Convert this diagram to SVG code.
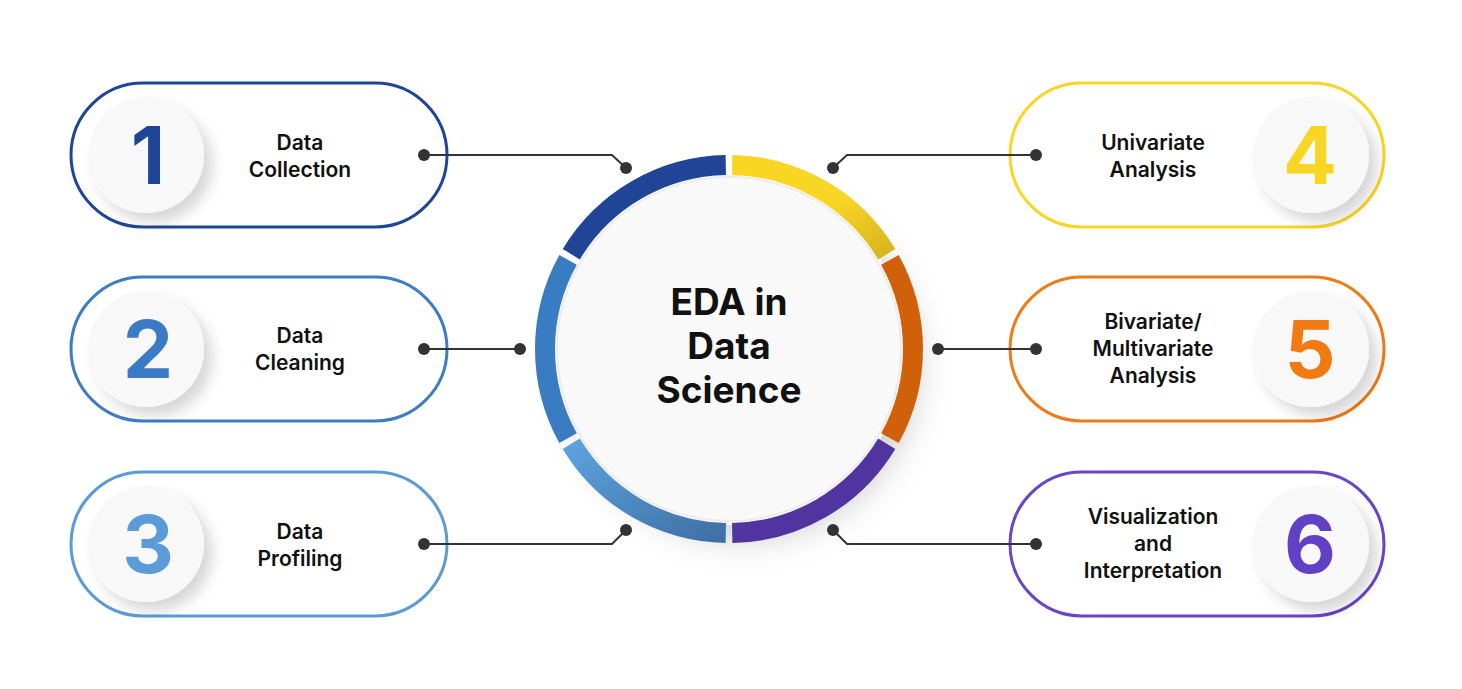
<svg xmlns="http://www.w3.org/2000/svg" width="1462" height="689" viewBox="0 0 1462 689">
<defs>
<filter id="sh" x="-40%" y="-40%" width="200%" height="200%">
<feDropShadow dx="8" dy="9" stdDeviation="7" flood-color="#000" flood-opacity="0.16"/>
</filter>
<filter id="shc" x="-30%" y="-30%" width="170%" height="170%">
<feDropShadow dx="14" dy="16" stdDeviation="16" flood-color="#000" flood-opacity="0.18"/>
</filter>
<linearGradient id="lb" x1="0" y1="0" x2="1" y2="1">
<stop offset="0" stop-color="#5DA2DD"/>
<stop offset="1" stop-color="#3F71A6"/>
</linearGradient>
<linearGradient id="yl" x1="0" y1="0" x2="1" y2="1">
<stop offset="0.55" stop-color="#F9D524"/>
<stop offset="1" stop-color="#D8B41E"/>
</linearGradient>
<style>
.pill{fill:#fff;stroke-width:3}
.numc{fill:#F8F8F8;filter:url(#sh)}
.num{font-family:Inter,"Liberation Sans",sans-serif;font-weight:700;font-size:80px;text-anchor:middle}
.lbl{font-family:Inter,"Liberation Sans",sans-serif;font-weight:600;font-size:21px;fill:#111;text-anchor:middle}
.ctr{font-family:Inter,"Liberation Sans",sans-serif;font-weight:700;font-size:37px;fill:#111;text-anchor:middle}
.seg{fill:none;stroke-width:20}
.ln{fill:none;stroke:#333;stroke-width:2}
.dot{fill:#333}
</style>
</defs>
<rect width="1462" height="689" fill="#fff"/>

<g id="node1">
<rect class="pill" x="71" y="83" width="376" height="144" rx="72" stroke="#1F4596"/>
<circle class="numc" cx="146" cy="155" r="58"/>
<text class="num" x="148" y="184" fill="#1F4596">1</text>
<text class="lbl" x="300" y="150">Data</text>
<text class="lbl" x="300" y="177">Collection</text>
</g>

<g id="node2">
<rect class="pill" x="71" y="277" width="376" height="144" rx="72" stroke="#3C7DC3"/>
<circle class="numc" cx="146" cy="349" r="58"/>
<text class="num" x="148" y="378" fill="#3A7BC8">2</text>
<text class="lbl" x="300" y="343">Data</text>
<text class="lbl" x="300" y="370">Cleaning</text>
</g>

<g id="node3">
<rect class="pill" x="71" y="472" width="376" height="144" rx="72" stroke="#5B9BD5"/>
<circle class="numc" cx="146" cy="544" r="58"/>
<text class="num" x="148" y="573" fill="#5B9BD8">3</text>
<text class="lbl" x="300" y="539">Data</text>
<text class="lbl" x="300" y="566">Profiling</text>
</g>

<g id="node4">
<rect class="pill" x="1010" y="83" width="374" height="144" rx="72" stroke="#F9D524"/>
<circle class="numc" cx="1311" cy="155" r="58"/>
<text class="num" x="1310" y="184" fill="#F9D524">4</text>
<text class="lbl" x="1153" y="150">Univariate</text>
<text class="lbl" x="1153" y="177">Analysis</text>
</g>

<g id="node5">
<rect class="pill" x="1010" y="277" width="374" height="144" rx="72" stroke="#F07A15"/>
<circle class="numc" cx="1311" cy="349" r="58"/>
<text class="num" x="1310" y="378" fill="#F27A12">5</text>
<text class="lbl" x="1153" y="329">Bivariate/</text>
<text class="lbl" x="1153" y="356">Multivariate</text>
<text class="lbl" x="1153" y="383">Analysis</text>
</g>

<g id="node6">
<rect class="pill" x="1010" y="472" width="374" height="144" rx="72" stroke="#6A44C9"/>
<circle class="numc" cx="1311" cy="544" r="58"/>
<text class="num" x="1310" y="573" fill="#6140C6">6</text>
<text class="lbl" x="1153" y="524">Visualization</text>
<text class="lbl" x="1153" y="551">and</text>
<text class="lbl" x="1153" y="578">Interpretation</text>
</g>

<g id="center">
<circle cx="729" cy="349" r="176" fill="#F9F9F9" filter="url(#shc)"/>
<circle cx="729" cy="349" r="172" fill="#F9F9F9" stroke="#ECECEC" stroke-width="2"/>
<path class="seg" stroke="url(#yl)" d="M732.2,165.03 A184,184 0 0 1 886.72,254.23"/>
<path class="seg" stroke="#D0610A" d="M889.93,259.79 A184,184 0 0 1 889.93,438.21"/>
<path class="seg" stroke="#5234A0" d="M886.72,443.77 A184,184 0 0 1 732.21,532.97"/>
<path class="seg" stroke="url(#lb)" d="M725.79,532.97 A184,184 0 0 1 571.28,443.77"/>
<path class="seg" stroke="#3A7CC2" d="M568.07,438.21 A184,184 0 0 1 568.07,259.79"/>
<path class="seg" stroke="#204596" d="M571.28,254.23 A184,184 0 0 1 725.79,165.03"/>
<text class="ctr" x="729" y="315">EDA in</text>
<text class="ctr" x="729" y="359">Data</text>
<text class="ctr" x="729" y="403">Science</text>
</g>

<g id="connectors">
<path class="ln" d="M424,155 H612 L626,168"/>
<circle class="dot" cx="424" cy="155" r="6"/>
<circle class="dot" cx="626" cy="168" r="6"/>
<path class="ln" d="M424,349 H520"/>
<circle class="dot" cx="424" cy="349" r="6"/>
<circle class="dot" cx="520" cy="349" r="6"/>
<path class="ln" d="M424,544 H612 L626,530"/>
<circle class="dot" cx="424" cy="544" r="6"/>
<circle class="dot" cx="626" cy="530" r="6"/>
<path class="ln" d="M1036,155 H847 L833,168"/>
<circle class="dot" cx="1036" cy="155" r="6"/>
<circle class="dot" cx="833" cy="168" r="6"/>
<path class="ln" d="M1036,349 H938"/>
<circle class="dot" cx="1036" cy="349" r="6"/>
<circle class="dot" cx="938" cy="349" r="6"/>
<path class="ln" d="M1036,544 H847 L833,530"/>
<circle class="dot" cx="1036" cy="544" r="6"/>
<circle class="dot" cx="833" cy="530" r="6"/>
</g>
</svg>
